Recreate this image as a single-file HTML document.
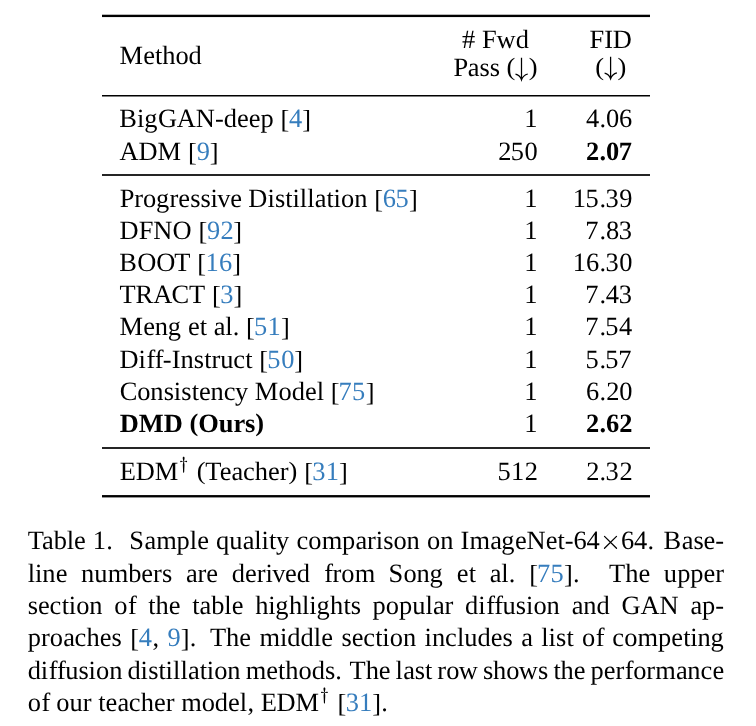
<!DOCTYPE html>
<html><head><meta charset="utf-8"><title>Table 1</title><style>
html,body{margin:0;padding:0;background:#fff;width:756px;height:726px;overflow:hidden}
body{position:relative;text-rendering:geometricPrecision;font-family:"Liberation Serif",serif;font-size:26.43px;color:#000}
#t{position:absolute;left:0;top:0;width:756px;height:726px;will-change:transform}
.g{position:absolute;font-style:normal;transform-origin:0 25px;line-height:32px;white-space:pre;font-kerning:none;font-variant-ligatures:none}
.b{font-weight:bold}
.c{color:#367dbd}
svg{position:absolute;left:0;top:0}
</style></head><body>
<svg width="756" height="726" viewBox="0 0 756 726">
<rect x="102" y="14.72" width="548" height="2.35"/>
<rect x="102" y="95.00" width="548" height="1.5"/>
<rect x="102" y="174.15" width="548" height="1.7"/>
<rect x="102" y="447.15" width="548" height="1.7"/>
<rect x="102" y="495.07" width="548" height="2.35"/>
<path transform="translate(0,1.1)" d="M521.50,56.7V77.6M515.50,73.1Q519.90,74 521.50,78.8Q523.10,74 527.80,72.9" fill="none" stroke="#000" stroke-width="1.25"/>
<path transform="translate(0,0)" d="M610.60,56.7V77.6M604.60,73.1Q609.00,74 610.60,78.8Q612.20,74 616.90,72.9" fill="none" stroke="#000" stroke-width="1.25"/>
<path transform="translate(183.65,461.50)" d="M-0.95,-3.3 C-0.95,-5.2 0.95,-5.2 0.95,-3.3 L0.35,0 L-0.35,0 Z M-0.35,0 L-0.85,3.2 L-0.55,10.4 Q0,12.2 0.55,10.4 L0.85,3.2 L0.35,0 Z M-3.5,0 C-3.5,-0.85 -2.6,-0.7 -1.6,-0.35 L1.6,-0.35 C2.6,-0.7 3.5,-0.85 3.5,0 C3.5,0.85 2.6,0.7 1.6,0.35 L-1.6,0.35 C-2.6,0.7 -3.5,0.85 -3.5,0 Z"/>
<path d="M604.5,536.4L616.5,548.3000000000001M616.5,536.4L604.5,548.3000000000001" stroke="#000" stroke-width="1.25" stroke-linecap="round"/>
<path transform="translate(324.43,692.30)" d="M-0.95,-3.3 C-0.95,-5.2 0.95,-5.2 0.95,-3.3 L0.35,0 L-0.35,0 Z M-0.35,0 L-0.85,3.2 L-0.55,10.4 Q0,12.2 0.55,10.4 L0.85,3.2 L0.35,0 Z M-3.5,0 C-3.5,-0.85 -2.6,-0.7 -1.6,-0.35 L1.6,-0.35 C2.6,-0.7 3.5,-0.85 3.5,0 C3.5,0.85 2.6,0.7 1.6,0.35 L-1.6,0.35 C-2.6,0.7 -3.5,0.85 -3.5,0 Z"/>
</svg>
<div id="t">
<i class="g" style="left:119.44px;top:39px">M</i>
<i class="g" style="left:143.13px;top:39px">e</i>
<i class="g" style="left:154.99px;top:39px">t</i>
<i class="g" style="left:162.19px;top:39px">h</i>
<i class="g" style="left:175.40px;top:39px">o</i>
<i class="g" style="left:188.55px;top:39px">d</i>
<i class="g" style="left:462.12px;top:23px">#</i>
<i class="g" style="left:482.05px;top:23px">F</i>
<i class="g" style="left:496.57px;top:23px">w</i>
<i class="g" style="left:515.63px;top:23px">d</i>
<i class="g" style="left:453.49px;top:51px">P</i>
<i class="g" style="left:467.80px;top:51px">a</i>
<i class="g" style="left:479.42px;top:51px">s</i>
<i class="g" style="left:489.70px;top:51px">s</i>
<i class="g" style="left:506.62px;top:51px;transform:translateY(-0.62px) scaleY(0.9407)">(</i>
<i class="g" style="left:528.81px;top:51px;transform:translateY(-0.62px) scaleY(0.9407)">)</i>
<i class="g" style="left:589.61px;top:23px">F</i>
<i class="g" style="left:604.17px;top:23px">I</i>
<i class="g" style="left:612.85px;top:23px">D</i>
<i class="g" style="left:595.28px;top:51px;transform:translateY(-0.62px) scaleY(0.9407)">(</i>
<i class="g" style="left:617.47px;top:51px;transform:translateY(-0.62px) scaleY(0.9407)">)</i>
<i class="g" style="left:119.13px;top:102px">B</i>
<i class="g" style="left:137.11px;top:102px">i</i>
<i class="g" style="left:144.25px;top:102px">g</i>
<i class="g" style="left:157.93px;top:102px">G</i>
<i class="g" style="left:176.85px;top:102px">A</i>
<i class="g" style="left:195.86px;top:102px">N</i>
<i class="g" style="left:214.93px;top:102px">-</i>
<i class="g" style="left:223.78px;top:102px">d</i>
<i class="g" style="left:237.08px;top:102px">e</i>
<i class="g" style="left:248.82px;top:102px">e</i>
<i class="g" style="left:260.52px;top:102px">p</i>
<i class="g" style="left:280.57px;top:102px;transform:translateY(0.63px) scaleY(0.9884)">[</i>
<i class="g c" style="left:288.90px;top:102px">4</i>
<i class="g" style="left:302.17px;top:102px;transform:translateY(0.63px) scaleY(0.9884)">]</i>
<i class="g" style="left:524.19px;top:102px">1</i>
<i class="g" style="left:585.89px;top:102px">4</i>
<i class="g" style="left:599.38px;top:102px">.</i>
<i class="g" style="left:605.97px;top:102px">0</i>
<i class="g" style="left:619.04px;top:102px">6</i>
<i class="g" style="left:119.57px;top:135px">A</i>
<i class="g" style="left:138.57px;top:135px">D</i>
<i class="g" style="left:157.60px;top:135px">M</i>
<i class="g" style="left:188.10px;top:135px;transform:translateY(0.63px) scaleY(0.9884)">[</i>
<i class="g c" style="left:196.66px;top:135px">9</i>
<i class="g" style="left:209.69px;top:135px;transform:translateY(0.63px) scaleY(0.9884)">]</i>
<i class="g" style="left:498.28px;top:135px">2</i>
<i class="g" style="left:510.63px;top:135px">5</i>
<i class="g" style="left:524.49px;top:135px">0</i>
<i class="g b" style="left:586.10px;top:135px">2</i>
<i class="g b" style="left:599.39px;top:135px">.</i>
<i class="g b" style="left:605.98px;top:135px">0</i>
<i class="g b" style="left:618.68px;top:135px">7</i>
<i class="g" style="left:119.79px;top:182px">P</i>
<i class="g" style="left:134.26px;top:182px">r</i>
<i class="g" style="left:143.10px;top:182px">o</i>
<i class="g" style="left:155.99px;top:182px">g</i>
<i class="g" style="left:169.49px;top:182px">r</i>
<i class="g" style="left:178.36px;top:182px">e</i>
<i class="g" style="left:190.15px;top:182px">s</i>
<i class="g" style="left:200.43px;top:182px">s</i>
<i class="g" style="left:210.50px;top:182px">i</i>
<i class="g" style="left:217.28px;top:182px">v</i>
<i class="g" style="left:230.16px;top:182px">e</i>
<i class="g" style="left:248.36px;top:182px">D</i>
<i class="g" style="left:267.43px;top:182px">i</i>
<i class="g" style="left:274.99px;top:182px">s</i>
<i class="g" style="left:285.34px;top:182px">t</i>
<i class="g" style="left:292.41px;top:182px">i</i>
<i class="g" style="left:299.87px;top:182px">l</i>
<i class="g" style="left:307.22px;top:182px">l</i>
<i class="g" style="left:314.77px;top:182px">a</i>
<i class="g" style="left:326.46px;top:182px">t</i>
<i class="g" style="left:333.53px;top:182px">i</i>
<i class="g" style="left:341.01px;top:182px">o</i>
<i class="g" style="left:354.14px;top:182px">n</i>
<i class="g" style="left:374.27px;top:182px;transform:translateY(0.63px) scaleY(0.9884)">[</i>
<i class="g c" style="left:382.71px;top:182px">6</i>
<i class="g c" style="left:395.42px;top:182px">5</i>
<i class="g" style="left:409.08px;top:182px;transform:translateY(0.63px) scaleY(0.9884)">]</i>
<i class="g" style="left:524.19px;top:182px">1</i>
<i class="g" style="left:572.64px;top:182px">1</i>
<i class="g" style="left:585.50px;top:182px">5</i>
<i class="g" style="left:599.38px;top:182px">.</i>
<i class="g" style="left:605.53px;top:182px">3</i>
<i class="g" style="left:619.16px;top:182px">9</i>
<i class="g" style="left:119.49px;top:214px">D</i>
<i class="g" style="left:138.82px;top:214px">F</i>
<i class="g" style="left:153.28px;top:214px">N</i>
<i class="g" style="left:172.48px;top:214px">O</i>
<i class="g" style="left:198.38px;top:214px;transform:translateY(0.63px) scaleY(0.9884)">[</i>
<i class="g c" style="left:206.94px;top:214px">9</i>
<i class="g c" style="left:220.40px;top:214px">2</i>
<i class="g" style="left:233.19px;top:214px;transform:translateY(0.63px) scaleY(0.9884)">]</i>
<i class="g" style="left:524.19px;top:214px">1</i>
<i class="g" style="left:585.25px;top:214px">7</i>
<i class="g" style="left:599.38px;top:214px">.</i>
<i class="g" style="left:605.99px;top:214px">8</i>
<i class="g" style="left:618.74px;top:214px">3</i>
<i class="g" style="left:119.13px;top:246px">B</i>
<i class="g" style="left:137.25px;top:246px">O</i>
<i class="g" style="left:156.33px;top:246px">O</i>
<i class="g" style="left:174.33px;top:246px">T</i>
<i class="g" style="left:197.32px;top:246px;transform:translateY(0.63px) scaleY(0.9884)">[</i>
<i class="g c" style="left:205.61px;top:246px">1</i>
<i class="g c" style="left:218.98px;top:246px">6</i>
<i class="g" style="left:232.13px;top:246px;transform:translateY(0.63px) scaleY(0.9884)">]</i>
<i class="g" style="left:524.19px;top:246px">1</i>
<i class="g" style="left:572.64px;top:246px">1</i>
<i class="g" style="left:586.00px;top:246px">6</i>
<i class="g" style="left:599.38px;top:246px">.</i>
<i class="g" style="left:605.53px;top:246px">3</i>
<i class="g" style="left:619.19px;top:246px">0</i>
<i class="g" style="left:119.59px;top:278px">T</i>
<i class="g" style="left:135.53px;top:278px">R</i>
<i class="g" style="left:153.35px;top:278px">A</i>
<i class="g" style="left:171.53px;top:278px">C</i>
<i class="g" style="left:189.02px;top:278px">T</i>
<i class="g" style="left:212.02px;top:278px;transform:translateY(0.63px) scaleY(0.9884)">[</i>
<i class="g c" style="left:220.16px;top:278px">3</i>
<i class="g" style="left:233.61px;top:278px;transform:translateY(0.63px) scaleY(0.9884)">]</i>
<i class="g" style="left:524.19px;top:278px">1</i>
<i class="g" style="left:585.25px;top:278px">7</i>
<i class="g" style="left:599.38px;top:278px">.</i>
<i class="g" style="left:605.71px;top:278px">4</i>
<i class="g" style="left:618.74px;top:278px">3</i>
<i class="g" style="left:119.44px;top:310px">M</i>
<i class="g" style="left:143.13px;top:310px">e</i>
<i class="g" style="left:154.76px;top:310px">n</i>
<i class="g" style="left:167.72px;top:310px">g</i>
<i class="g" style="left:187.90px;top:310px">e</i>
<i class="g" style="left:199.76px;top:310px">t</i>
<i class="g" style="left:213.76px;top:310px">a</i>
<i class="g" style="left:225.29px;top:310px">l</i>
<i class="g" style="left:232.67px;top:310px">.</i>
<i class="g" style="left:246.08px;top:310px;transform:translateY(0.63px) scaleY(0.9884)">[</i>
<i class="g c" style="left:254.03px;top:310px">5</i>
<i class="g c" style="left:267.59px;top:310px">1</i>
<i class="g" style="left:280.89px;top:310px;transform:translateY(0.63px) scaleY(0.9884)">]</i>
<i class="g" style="left:524.19px;top:310px">1</i>
<i class="g" style="left:585.25px;top:310px">7</i>
<i class="g" style="left:599.38px;top:310px">.</i>
<i class="g" style="left:605.33px;top:310px">5</i>
<i class="g" style="left:618.93px;top:310px">4</i>
<i class="g" style="left:119.49px;top:343px">D</i>
<i class="g" style="left:138.56px;top:343px">i</i>
<i class="g" style="left:146.57px;top:343px">f</i>
<i class="g" style="left:154.71px;top:343px">f</i>
<i class="g" style="left:162.86px;top:343px">-</i>
<i class="g" style="left:171.78px;top:343px">I</i>
<i class="g" style="left:180.50px;top:343px">n</i>
<i class="g" style="left:193.87px;top:343px">s</i>
<i class="g" style="left:204.22px;top:343px">t</i>
<i class="g" style="left:211.38px;top:343px">r</i>
<i class="g" style="left:220.13px;top:343px">u</i>
<i class="g" style="left:233.26px;top:343px">c</i>
<i class="g" style="left:245.32px;top:343px">t</i>
<i class="g" style="left:259.35px;top:343px;transform:translateY(0.63px) scaleY(0.9884)">[</i>
<i class="g c" style="left:267.29px;top:343px">5</i>
<i class="g c" style="left:281.16px;top:343px">0</i>
<i class="g" style="left:294.16px;top:343px;transform:translateY(0.63px) scaleY(0.9884)">]</i>
<i class="g" style="left:524.19px;top:343px">1</i>
<i class="g" style="left:585.50px;top:343px">5</i>
<i class="g" style="left:599.38px;top:343px">.</i>
<i class="g" style="left:605.33px;top:343px">5</i>
<i class="g" style="left:618.29px;top:343px">7</i>
<i class="g" style="left:119.73px;top:375px">C</i>
<i class="g" style="left:137.24px;top:375px">o</i>
<i class="g" style="left:150.37px;top:375px">n</i>
<i class="g" style="left:163.74px;top:375px">s</i>
<i class="g" style="left:173.82px;top:375px">i</i>
<i class="g" style="left:181.37px;top:375px">s</i>
<i class="g" style="left:191.72px;top:375px">t</i>
<i class="g" style="left:198.95px;top:375px">e</i>
<i class="g" style="left:210.58px;top:375px">n</i>
<i class="g" style="left:223.70px;top:375px">c</i>
<i class="g" style="left:234.97px;top:375px">y</i>
<i class="g" style="left:254.86px;top:375px">M</i>
<i class="g" style="left:278.53px;top:375px">o</i>
<i class="g" style="left:291.68px;top:375px">d</i>
<i class="g" style="left:304.98px;top:375px">e</i>
<i class="g" style="left:316.68px;top:375px">l</i>
<i class="g" style="left:330.87px;top:375px;transform:translateY(0.63px) scaleY(0.9884)">[</i>
<i class="g c" style="left:338.56px;top:375px">7</i>
<i class="g c" style="left:352.03px;top:375px">5</i>
<i class="g" style="left:365.68px;top:375px;transform:translateY(0.63px) scaleY(0.9884)">]</i>
<i class="g" style="left:524.19px;top:375px">1</i>
<i class="g" style="left:586.00px;top:375px">6</i>
<i class="g" style="left:599.38px;top:375px">.</i>
<i class="g" style="left:606.19px;top:375px">2</i>
<i class="g" style="left:619.19px;top:375px">0</i>
<i class="g b" style="left:119.79px;top:407px">D</i>
<i class="g b" style="left:138.74px;top:407px">M</i>
<i class="g b" style="left:163.82px;top:407px">D</i>
<i class="g b" style="left:189.44px;top:407px;transform:translateY(-0.91px) scaleY(0.9507)">(</i>
<i class="g b" style="left:198.14px;top:407px">O</i>
<i class="g b" style="left:218.82px;top:407px">u</i>
<i class="g b" style="left:233.58px;top:407px">r</i>
<i class="g b" style="left:245.01px;top:407px">s</i>
<i class="g b" style="left:255.32px;top:407px;transform:translateY(-0.91px) scaleY(0.9507)">)</i>
<i class="g" style="left:524.19px;top:407px">1</i>
<i class="g b" style="left:586.10px;top:407px">2</i>
<i class="g b" style="left:599.39px;top:407px">.</i>
<i class="g b" style="left:605.96px;top:407px">6</i>
<i class="g b" style="left:619.14px;top:407px">2</i>
<i class="g" style="left:119.87px;top:455px">E</i>
<i class="g" style="left:135.64px;top:455px">D</i>
<i class="g" style="left:154.67px;top:455px">M</i>
<i class="g" style="left:196.63px;top:455px;transform:translateY(-0.62px) scaleY(0.9407)">(</i>
<i class="g" style="left:205.31px;top:455px">T</i>
<i class="g" style="left:219.64px;top:455px">e</i>
<i class="g" style="left:231.55px;top:455px">a</i>
<i class="g" style="left:242.92px;top:455px">c</i>
<i class="g" style="left:254.83px;top:455px">h</i>
<i class="g" style="left:268.06px;top:455px">e</i>
<i class="g" style="left:279.73px;top:455px">r</i>
<i class="g" style="left:288.49px;top:455px;transform:translateY(-0.62px) scaleY(0.9407)">)</i>
<i class="g" style="left:304.21px;top:455px;transform:translateY(0.63px) scaleY(0.9884)">[</i>
<i class="g c" style="left:312.35px;top:455px">3</i>
<i class="g c" style="left:325.71px;top:455px">1</i>
<i class="g" style="left:339.02px;top:455px;transform:translateY(0.63px) scaleY(0.9884)">]</i>
<i class="g" style="left:497.42px;top:455px">5</i>
<i class="g" style="left:510.98px;top:455px">1</i>
<i class="g" style="left:524.71px;top:455px">2</i>
<i class="g" style="left:586.37px;top:455px">2</i>
<i class="g" style="left:599.38px;top:455px">.</i>
<i class="g" style="left:605.53px;top:455px">3</i>
<i class="g" style="left:619.41px;top:455px">2</i>
<i class="g" style="left:27.72px;top:524px">T</i>
<i class="g" style="left:41.96px;top:524px">a</i>
<i class="g" style="left:53.64px;top:524px">b</i>
<i class="g" style="left:66.71px;top:524px">l</i>
<i class="g" style="left:74.09px;top:524px">e</i>
<i class="g" style="left:92.65px;top:524px">1</i>
<i class="g" style="left:106.18px;top:524px">.</i>
<i class="g" style="left:129.26px;top:524px">S</i>
<i class="g" style="left:144.51px;top:524px">a</i>
<i class="g" style="left:156.17px;top:524px">m</i>
<i class="g" style="left:176.60px;top:524px">p</i>
<i class="g" style="left:189.82px;top:524px">l</i>
<i class="g" style="left:197.20px;top:524px">e</i>
<i class="g" style="left:215.98px;top:524px">q</i>
<i class="g" style="left:229.17px;top:524px">u</i>
<i class="g" style="left:242.67px;top:524px">a</i>
<i class="g" style="left:254.20px;top:524px">l</i>
<i class="g" style="left:261.43px;top:524px">i</i>
<i class="g" style="left:269.05px;top:524px">t</i>
<i class="g" style="left:276.01px;top:524px">y</i>
<i class="g" style="left:296.40px;top:524px">c</i>
<i class="g" style="left:308.31px;top:524px">o</i>
<i class="g" style="left:321.64px;top:524px">m</i>
<i class="g" style="left:342.07px;top:524px">p</i>
<i class="g" style="left:355.50px;top:524px">a</i>
<i class="g" style="left:366.99px;top:524px">r</i>
<i class="g" style="left:375.71px;top:524px">i</i>
<i class="g" style="left:383.26px;top:524px">s</i>
<i class="g" style="left:393.47px;top:524px">o</i>
<i class="g" style="left:406.60px;top:524px">n</i>
<i class="g" style="left:427.03px;top:524px">o</i>
<i class="g" style="left:440.17px;top:524px">n</i>
<i class="g" style="left:460.60px;top:524px">I</i>
<i class="g" style="left:469.51px;top:524px">m</i>
<i class="g" style="left:490.15px;top:524px">a</i>
<i class="g" style="left:501.37px;top:524px">g</i>
<i class="g" style="left:514.93px;top:524px">e</i>
<i class="g" style="left:526.54px;top:524px">N</i>
<i class="g" style="left:545.75px;top:524px">e</i>
<i class="g" style="left:557.61px;top:524px">t</i>
<i class="g" style="left:564.69px;top:524px">-</i>
<i class="g" style="left:573.47px;top:524px">6</i>
<i class="g" style="left:586.57px;top:524px">4</i>
<i class="g" style="left:621.02px;top:524px">6</i>
<i class="g" style="left:634.12px;top:524px">4</i>
<i class="g" style="left:647.61px;top:524px">.</i>
<i class="g" style="left:663.47px;top:524px">B</i>
<i class="g" style="left:681.76px;top:524px">a</i>
<i class="g" style="left:693.38px;top:524px">s</i>
<i class="g" style="left:703.61px;top:524px">e</i>
<i class="g" style="left:715.20px;top:524px">-</i>
<i class="g" style="left:27.73px;top:557px">l</i>
<i class="g" style="left:34.95px;top:557px">i</i>
<i class="g" style="left:42.35px;top:557px">n</i>
<i class="g" style="left:55.67px;top:557px">e</i>
<i class="g" style="left:81.02px;top:557px">n</i>
<i class="g" style="left:94.22px;top:557px">u</i>
<i class="g" style="left:107.64px;top:557px">m</i>
<i class="g" style="left:128.22px;top:557px">b</i>
<i class="g" style="left:141.33px;top:557px">e</i>
<i class="g" style="left:153.00px;top:557px">r</i>
<i class="g" style="left:161.92px;top:557px">s</i>
<i class="g" style="left:186.00px;top:557px">a</i>
<i class="g" style="left:197.50px;top:557px">r</i>
<i class="g" style="left:206.37px;top:557px">e</i>
<i class="g" style="left:231.73px;top:557px">d</i>
<i class="g" style="left:245.04px;top:557px">e</i>
<i class="g" style="left:256.70px;top:557px">r</i>
<i class="g" style="left:265.42px;top:557px">i</i>
<i class="g" style="left:272.20px;top:557px">v</i>
<i class="g" style="left:285.08px;top:557px">e</i>
<i class="g" style="left:296.72px;top:557px">d</i>
<i class="g" style="left:324.22px;top:557px">f</i>
<i class="g" style="left:332.45px;top:557px">r</i>
<i class="g" style="left:341.29px;top:557px">o</i>
<i class="g" style="left:354.63px;top:557px">m</i>
<i class="g" style="left:388.43px;top:557px">S</i>
<i class="g" style="left:403.48px;top:557px">o</i>
<i class="g" style="left:416.62px;top:557px">n</i>
<i class="g" style="left:429.58px;top:557px">g</i>
<i class="g" style="left:456.84px;top:557px">e</i>
<i class="g" style="left:468.70px;top:557px">t</i>
<i class="g" style="left:489.81px;top:557px">a</i>
<i class="g" style="left:501.34px;top:557px">l</i>
<i class="g" style="left:508.72px;top:557px">.</i>
<i class="g" style="left:529.25px;top:557px;transform:translateY(0.63px) scaleY(0.9884)">[</i>
<i class="g c" style="left:536.94px;top:557px">7</i>
<i class="g c" style="left:550.40px;top:557px">5</i>
<i class="g" style="left:564.06px;top:557px;transform:translateY(0.63px) scaleY(0.9884)">]</i>
<i class="g" style="left:573.08px;top:557px">.</i>
<i class="g" style="left:609.11px;top:557px">T</i>
<i class="g" style="left:625.28px;top:557px">h</i>
<i class="g" style="left:638.52px;top:557px">e</i>
<i class="g" style="left:663.85px;top:557px">u</i>
<i class="g" style="left:677.15px;top:557px">p</i>
<i class="g" style="left:690.36px;top:557px">p</i>
<i class="g" style="left:703.61px;top:557px">e</i>
<i class="g" style="left:715.28px;top:557px">r</i>
<i class="g" style="left:27.82px;top:589px">s</i>
<i class="g" style="left:38.04px;top:589px">e</i>
<i class="g" style="left:49.58px;top:589px">c</i>
<i class="g" style="left:61.64px;top:589px">t</i>
<i class="g" style="left:68.71px;top:589px">i</i>
<i class="g" style="left:76.18px;top:589px">o</i>
<i class="g" style="left:89.32px;top:589px">n</i>
<i class="g" style="left:114.32px;top:589px">o</i>
<i class="g" style="left:128.07px;top:589px">f</i>
<i class="g" style="left:148.19px;top:589px">t</i>
<i class="g" style="left:155.40px;top:589px">h</i>
<i class="g" style="left:168.63px;top:589px">e</i>
<i class="g" style="left:192.20px;top:589px">t</i>
<i class="g" style="left:199.59px;top:589px">a</i>
<i class="g" style="left:211.26px;top:589px">b</i>
<i class="g" style="left:224.33px;top:589px">l</i>
<i class="g" style="left:231.72px;top:589px">e</i>
<i class="g" style="left:255.14px;top:589px">h</i>
<i class="g" style="left:268.22px;top:589px">i</i>
<i class="g" style="left:275.37px;top:589px">g</i>
<i class="g" style="left:288.92px;top:589px">h</i>
<i class="g" style="left:302.12px;top:589px">l</i>
<i class="g" style="left:309.34px;top:589px">i</i>
<i class="g" style="left:316.49px;top:589px">g</i>
<i class="g" style="left:330.04px;top:589px">h</i>
<i class="g" style="left:343.40px;top:589px">t</i>
<i class="g" style="left:350.68px;top:589px">s</i>
<i class="g" style="left:372.60px;top:589px">p</i>
<i class="g" style="left:385.83px;top:589px">o</i>
<i class="g" style="left:399.03px;top:589px">p</i>
<i class="g" style="left:412.16px;top:589px">u</i>
<i class="g" style="left:425.46px;top:589px">l</i>
<i class="g" style="left:433.01px;top:589px">a</i>
<i class="g" style="left:444.51px;top:589px">r</i>
<i class="g" style="left:465.00px;top:589px">d</i>
<i class="g" style="left:478.15px;top:589px">i</i>
<i class="g" style="left:486.16px;top:589px">f</i>
<i class="g" style="left:494.30px;top:589px">f</i>
<i class="g" style="left:502.47px;top:589px">u</i>
<i class="g" style="left:515.86px;top:589px">s</i>
<i class="g" style="left:525.93px;top:589px">i</i>
<i class="g" style="left:533.41px;top:589px">o</i>
<i class="g" style="left:546.55px;top:589px">n</i>
<i class="g" style="left:571.74px;top:589px">a</i>
<i class="g" style="left:583.21px;top:589px">n</i>
<i class="g" style="left:596.43px;top:589px">d</i>
<i class="g" style="left:621.55px;top:589px">G</i>
<i class="g" style="left:640.47px;top:589px">A</i>
<i class="g" style="left:659.48px;top:589px">N</i>
<i class="g" style="left:690.57px;top:589px">a</i>
<i class="g" style="left:702.09px;top:589px">p</i>
<i class="g" style="left:715.20px;top:589px">-</i>
<i class="g" style="left:27.72px;top:621px">p</i>
<i class="g" style="left:40.91px;top:621px">r</i>
<i class="g" style="left:49.75px;top:621px">o</i>
<i class="g" style="left:63.16px;top:621px">a</i>
<i class="g" style="left:74.53px;top:621px">c</i>
<i class="g" style="left:86.44px;top:621px">h</i>
<i class="g" style="left:99.67px;top:621px">e</i>
<i class="g" style="left:111.46px;top:621px">s</i>
<i class="g" style="left:130.32px;top:621px;transform:translateY(0.63px) scaleY(0.9884)">[</i>
<i class="g c" style="left:138.65px;top:621px">4</i>
<i class="g" style="left:152.47px;top:621px">,</i>
<i class="g c" style="left:167.61px;top:621px">9</i>
<i class="g" style="left:180.64px;top:621px;transform:translateY(0.63px) scaleY(0.9884)">]</i>
<i class="g" style="left:189.67px;top:621px">.</i>
<i class="g" style="left:209.90px;top:621px">T</i>
<i class="g" style="left:226.07px;top:621px">h</i>
<i class="g" style="left:239.30px;top:621px">e</i>
<i class="g" style="left:259.59px;top:621px">m</i>
<i class="g" style="left:279.90px;top:621px">i</i>
<i class="g" style="left:287.31px;top:621px">d</i>
<i class="g" style="left:300.53px;top:621px">d</i>
<i class="g" style="left:313.80px;top:621px">l</i>
<i class="g" style="left:321.18px;top:621px">e</i>
<i class="g" style="left:341.40px;top:621px">s</i>
<i class="g" style="left:351.63px;top:621px">e</i>
<i class="g" style="left:363.16px;top:621px">c</i>
<i class="g" style="left:375.22px;top:621px">t</i>
<i class="g" style="left:382.29px;top:621px">i</i>
<i class="g" style="left:389.77px;top:621px">o</i>
<i class="g" style="left:402.90px;top:621px">n</i>
<i class="g" style="left:424.50px;top:621px">i</i>
<i class="g" style="left:431.90px;top:621px">n</i>
<i class="g" style="left:445.01px;top:621px">c</i>
<i class="g" style="left:456.91px;top:621px">l</i>
<i class="g" style="left:464.18px;top:621px">u</i>
<i class="g" style="left:477.42px;top:621px">d</i>
<i class="g" style="left:490.72px;top:621px">e</i>
<i class="g" style="left:502.51px;top:621px">s</i>
<i class="g" style="left:521.34px;top:621px">a</i>
<i class="g" style="left:541.30px;top:621px">l</i>
<i class="g" style="left:548.53px;top:621px">i</i>
<i class="g" style="left:556.09px;top:621px">s</i>
<i class="g" style="left:566.44px;top:621px">t</i>
<i class="g" style="left:582.09px;top:621px">o</i>
<i class="g" style="left:595.84px;top:621px">f</i>
<i class="g" style="left:612.37px;top:621px">c</i>
<i class="g" style="left:624.27px;top:621px">o</i>
<i class="g" style="left:637.60px;top:621px">m</i>
<i class="g" style="left:658.04px;top:621px">p</i>
<i class="g" style="left:671.29px;top:621px">e</i>
<i class="g" style="left:683.15px;top:621px">t</i>
<i class="g" style="left:690.22px;top:621px">i</i>
<i class="g" style="left:697.62px;top:621px">n</i>
<i class="g" style="left:710.58px;top:621px">g</i>
<i class="g" style="left:27.67px;top:654px">d</i>
<i class="g" style="left:40.82px;top:654px">i</i>
<i class="g" style="left:48.83px;top:654px">f</i>
<i class="g" style="left:56.97px;top:654px">f</i>
<i class="g" style="left:65.15px;top:654px">u</i>
<i class="g" style="left:78.53px;top:654px">s</i>
<i class="g" style="left:88.61px;top:654px">i</i>
<i class="g" style="left:96.08px;top:654px">o</i>
<i class="g" style="left:109.22px;top:654px">n</i>
<i class="g" style="left:127.47px;top:654px">d</i>
<i class="g" style="left:140.62px;top:654px">i</i>
<i class="g" style="left:148.17px;top:654px">s</i>
<i class="g" style="left:158.53px;top:654px">t</i>
<i class="g" style="left:165.60px;top:654px">i</i>
<i class="g" style="left:173.06px;top:654px">l</i>
<i class="g" style="left:180.41px;top:654px">l</i>
<i class="g" style="left:187.96px;top:654px">a</i>
<i class="g" style="left:199.65px;top:654px">t</i>
<i class="g" style="left:206.72px;top:654px">i</i>
<i class="g" style="left:214.20px;top:654px">o</i>
<i class="g" style="left:227.33px;top:654px">n</i>
<i class="g" style="left:245.76px;top:654px">m</i>
<i class="g" style="left:266.23px;top:654px">e</i>
<i class="g" style="left:278.09px;top:654px">t</i>
<i class="g" style="left:285.30px;top:654px">h</i>
<i class="g" style="left:298.51px;top:654px">o</i>
<i class="g" style="left:311.66px;top:654px">d</i>
<i class="g" style="left:325.01px;top:654px">s</i>
<i class="g" style="left:335.24px;top:654px">.</i>
<i class="g" style="left:349.47px;top:654px">T</i>
<i class="g" style="left:365.64px;top:654px">h</i>
<i class="g" style="left:378.87px;top:654px">e</i>
<i class="g" style="left:395.60px;top:654px">l</i>
<i class="g" style="left:403.15px;top:654px">a</i>
<i class="g" style="left:414.77px;top:654px">s</i>
<i class="g" style="left:425.12px;top:654px">t</i>
<i class="g" style="left:437.30px;top:654px">r</i>
<i class="g" style="left:446.14px;top:654px">o</i>
<i class="g" style="left:458.66px;top:654px">w</i>
<i class="g" style="left:482.90px;top:654px">s</i>
<i class="g" style="left:493.11px;top:654px">h</i>
<i class="g" style="left:506.32px;top:654px">o</i>
<i class="g" style="left:518.84px;top:654px">w</i>
<i class="g" style="left:538.03px;top:654px">s</i>
<i class="g" style="left:553.41px;top:654px">t</i>
<i class="g" style="left:560.61px;top:654px">h</i>
<i class="g" style="left:573.84px;top:654px">e</i>
<i class="g" style="left:590.56px;top:654px">p</i>
<i class="g" style="left:603.81px;top:654px">e</i>
<i class="g" style="left:615.48px;top:654px">r</i>
<i class="g" style="left:624.86px;top:654px">f</i>
<i class="g" style="left:633.13px;top:654px">o</i>
<i class="g" style="left:646.30px;top:654px">r</i>
<i class="g" style="left:655.26px;top:654px">m</i>
<i class="g" style="left:675.90px;top:654px">a</i>
<i class="g" style="left:687.36px;top:654px">n</i>
<i class="g" style="left:700.48px;top:654px">c</i>
<i class="g" style="left:712.41px;top:654px">e</i>
<i class="g" style="left:27.74px;top:686px">o</i>
<i class="g" style="left:41.48px;top:686px">f</i>
<i class="g" style="left:56.36px;top:686px">o</i>
<i class="g" style="left:69.48px;top:686px">u</i>
<i class="g" style="left:82.75px;top:686px">r</i>
<i class="g" style="left:98.35px;top:686px">t</i>
<i class="g" style="left:105.57px;top:686px">e</i>
<i class="g" style="left:117.47px;top:686px">a</i>
<i class="g" style="left:128.84px;top:686px">c</i>
<i class="g" style="left:140.75px;top:686px">h</i>
<i class="g" style="left:153.99px;top:686px">e</i>
<i class="g" style="left:165.66px;top:686px">r</i>
<i class="g" style="left:181.22px;top:686px">m</i>
<i class="g" style="left:201.67px;top:686px">o</i>
<i class="g" style="left:214.82px;top:686px">d</i>
<i class="g" style="left:228.12px;top:686px">e</i>
<i class="g" style="left:239.82px;top:686px">l</i>
<i class="g" style="left:247.54px;top:686px">,</i>
<i class="g" style="left:260.66px;top:686px">E</i>
<i class="g" style="left:276.42px;top:686px">D</i>
<i class="g" style="left:295.46px;top:686px">M</i>
<i class="g" style="left:337.53px;top:686px;transform:translateY(0.63px) scaleY(0.9884)">[</i>
<i class="g c" style="left:345.68px;top:686px">3</i>
<i class="g c" style="left:359.04px;top:686px">1</i>
<i class="g" style="left:372.34px;top:686px;transform:translateY(0.63px) scaleY(0.9884)">]</i>
<i class="g" style="left:381.37px;top:686px">.</i>
</div>
</body></html>
